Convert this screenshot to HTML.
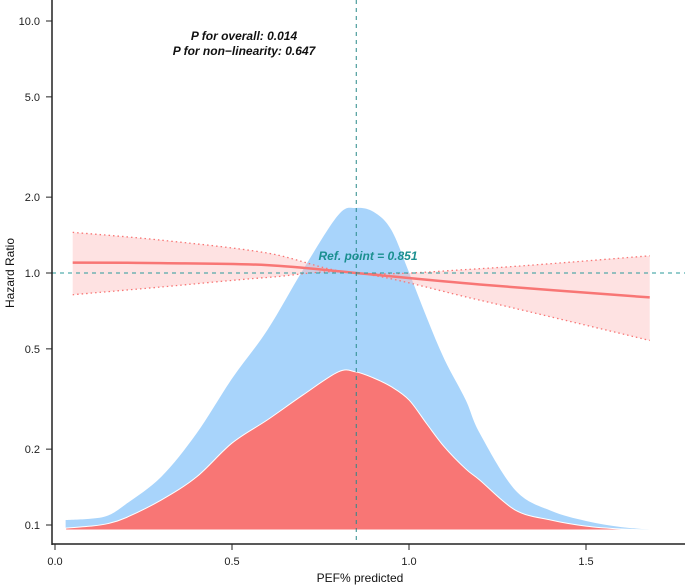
<!DOCTYPE html>
<html><head><meta charset="utf-8"><style>
body{margin:0;background:#fff}svg{display:block}
text{font-family:"Liberation Sans",sans-serif}
</style></head><body>
<svg id="c" width="685" height="587"></svg>
<script>
const xs=[0.03,0.1,0.15,0.2,0.3,0.4,0.5,0.6,0.7,0.8,0.85,0.9,0.95,1.0,1.05,1.1,1.16,1.2,1.3,1.4,1.5,1.6,1.7];
const blueDens=[0.031,0.035,0.045,0.08,0.165,0.3,0.47,0.621,0.807,0.978,1.0,0.988,0.932,0.8,0.66,0.53,0.404,0.3,0.124,0.06,0.028,0.009,0];
const redDens=[0.006,0.012,0.02,0.038,0.093,0.165,0.27,0.342,0.419,0.491,0.491,0.472,0.445,0.404,0.33,0.258,0.19,0.155,0.062,0.031,0.012,0.003,0];
const hrX=[0.05,0.3,0.6,0.851,1.2,1.68];
const hr=[1.1,1.095,1.075,1.0,0.9,0.8];
const hrLo=[0.82,0.88,0.96,1.0,0.78,0.54];
const hrHi=[1.45,1.35,1.2,1.0,1.04,1.17];
const yTicks=[10,5,2,1,0.5,0.2,0.1];
const yLabels=["10.0","5.0","2.0","1.0","0.5","0.2","0.1"];
const xTicks=[0,0.5,1,1.5];
const xLabels=["0.0","0.5","1.0","1.5"];
const refPoint=0.851;

const X=v=>55+v*354;
const Y=v=>273-Math.log10(v)*252;
const D=d=>530-d*322;
const s=document.getElementById('c');
const NS='http://www.w3.org/2000/svg';
function mk(t,a,p){const e=document.createElementNS(NS,t);for(const k in a)e.setAttribute(k,a[k]);(p||s).appendChild(e);return e;}
function smooth(pts){let d='M'+pts[0][0]+','+pts[0][1];for(let i=0;i<pts.length-1;i++){const p0=pts[i-1]||pts[i],p1=pts[i],p2=pts[i+1],p3=pts[i+2]||p2;d+=' C'+(p1[0]+(p2[0]-p0[0])/6)+','+(p1[1]+(p2[1]-p0[1])/6)+' '+(p2[0]-(p3[0]-p1[0])/6)+','+(p2[1]-(p3[1]-p1[1])/6)+' '+p2[0]+','+p2[1];}return d;}
function area(dens){const pts=xs.map((x,i)=>[X(x),D(dens[i])]);return smooth(pts)+' L'+X(xs[xs.length-1])+',530 L'+X(xs[0])+',530 Z';}
let e=mk('path',{d:area(blueDens),fill:'#a8d4fb'});

e=mk('path',{d:area(redDens),fill:'#f87675',stroke:'#fff','stroke-width':1});

const up=hrX.map((x,i)=>[X(x),Y(hrHi[i])]),lo=hrX.map((x,i)=>[X(x),Y(hrLo[i])]);
let band=smooth(up)+' L'+lo[lo.length-1][0]+','+lo[lo.length-1][1]+smooth(lo.slice().reverse()).replace('M',' L')+' Z';
e=mk('path',{d:band,fill:'rgba(252,190,190,0.45)'});

[up,lo].forEach((p,i)=>{e=mk('path',{d:smooth(p),fill:'none',stroke:'#f87675','stroke-width':1.3,'stroke-dasharray':'1.5,3'});
});
e=mk('path',{d:smooth(hrX.map((x,i)=>[X(x),Y(hr[i])])),fill:'none',stroke:'#f87675','stroke-width':2.5});

e=mk('line',{x1:52,x2:685,y1:Y(1),y2:Y(1),stroke:'#2a9a9a','stroke-width':1,'stroke-dasharray':'4,4'});

e=mk('line',{x1:X(refPoint),x2:X(refPoint),y1:0,y2:544,stroke:'#2a8a8a','stroke-width':1,'stroke-dasharray':'4,4'});

e=mk('line',{x1:52,x2:52,y1:0,y2:545,stroke:'#222','stroke-width':1.5});

e=mk('line',{x1:52,x2:685,y1:544,y2:544,stroke:'#222','stroke-width':1.5});

yTicks.forEach((v,i)=>{mk('line',{x1:46,x2:52,y1:Y(v),y2:Y(v),stroke:'#222'});
e=mk('text',{x:40,y:Y(v)+4,'text-anchor':'end','font-size':11,fill:'#222'});e.textContent=yLabels[i];
});
xTicks.forEach((v,i)=>{mk('line',{x1:X(v),x2:X(v),y1:544,y2:550,stroke:'#222'});
e=mk('text',{x:X(v),y:565,'text-anchor':'middle','font-size':11,fill:'#222'});e.textContent=xLabels[i];
});
e=mk('text',{x:360,y:582,'text-anchor':'middle','font-size':12,fill:'#111'});e.textContent='PEF% predicted';

e=mk('text',{x:14,y:273,'text-anchor':'middle','font-size':12,fill:'#111',transform:'rotate(-90 14 273)'});e.textContent='Hazard Ratio';

e=mk('text',{x:244,y:40,'text-anchor':'middle','font-size':12,'font-weight':'bold','font-style':'italic',fill:'#111'});e.textContent='P for overall: 0.014';

e=mk('text',{x:244,y:55,'text-anchor':'middle','font-size':12,'font-weight':'bold','font-style':'italic',fill:'#111'});e.textContent='P for non\u2212linearity: 0.647';

e=mk('text',{x:368,y:260,'text-anchor':'middle','font-size':12,'font-weight':'bold','font-style':'italic',fill:'#1a8f8f'});e.textContent='Ref. point = 0.851';

</script>
</body></html>
